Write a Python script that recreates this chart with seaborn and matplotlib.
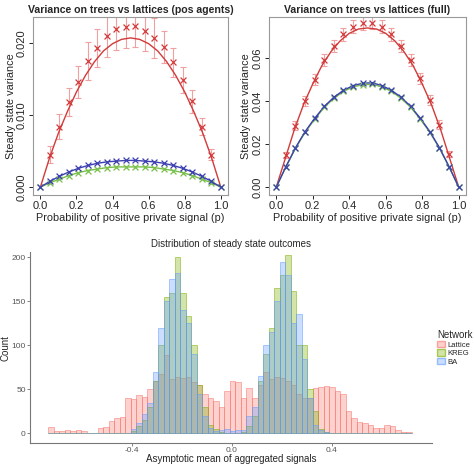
import numpy as np
import pandas as pd
import matplotlib
matplotlib.use("Agg")
import matplotlib.pyplot as plt
import seaborn as sns
from matplotlib.patches import Patch
from matplotlib.colors import to_rgba

sns.set_style("white")
plt.rcParams["font.family"] = ["Liberation Sans", "DejaVu Sans"]

# -------------------------------
# DATA: variance plots
# -------------------------------
P_MARK = [i / 19 for i in range(20)]
P_CURVE = [0.0, 0.05, 0.1, 0.15, 0.2, 0.25, 0.3, 0.35, 0.4, 0.45, 0.5,
           0.55, 0.6, 0.65, 0.7, 0.75, 0.8, 0.85, 0.9, 0.95, 1.0]

POS_RED_MARK = [0.0, 0.0045, 0.0084, 0.0118, 0.0146, 0.0175, 0.0193, 0.0209, 0.0219, 0.0222,
                0.0224, 0.0217, 0.0207, 0.0194, 0.0173, 0.0148, 0.0119, 0.0084, 0.0045, 0.0]
POS_RED_ERR = [0.0, 0.0012, 0.0017, 0.0019, 0.0022, 0.0026, 0.0027, 0.0028, 0.0029, 0.0029,
               0.0029, 0.0028, 0.0028, 0.0022, 0.0020, 0.0018, 0.0016, 0.0012, 0.0008, 0.0]
POS_RED_CURVE = [0.0, 0.0040, 0.0075, 0.0105, 0.0132, 0.0155, 0.0174, 0.0189, 0.0199, 0.0205, 0.0207,
                 0.0205, 0.0199, 0.0189, 0.0174, 0.0155, 0.0132, 0.0105, 0.0075, 0.0040, 0.0]
POS_BLUE = [0.0, 0.0008, 0.0015, 0.0021, 0.0026, 0.0030, 0.0033, 0.0035, 0.0036, 0.0037,
            0.0037, 0.0036, 0.0035, 0.0033, 0.0030, 0.0026, 0.0021, 0.0015, 0.0008, 0.0]
POS_GREEN = [0.0, 0.0006, 0.0011, 0.0016, 0.0020, 0.0023, 0.0025, 0.0027, 0.0028, 0.0028,
             0.0028, 0.0028, 0.0027, 0.0025, 0.0023, 0.0020, 0.0016, 0.0011, 0.0006, 0.0]

FULL_RED_MARK = [0.0, 0.0150, 0.0285, 0.0400, 0.0500, 0.0590, 0.0655, 0.0710, 0.0745, 0.0762,
                 0.0765, 0.0745, 0.0710, 0.0655, 0.0590, 0.0505, 0.0405, 0.0290, 0.0155, 0.0]
FULL_RED_ERR = [0.0, 0.0015, 0.0020, 0.0022, 0.0025, 0.0027, 0.0028, 0.0030, 0.0030, 0.0030,
                0.0030, 0.0030, 0.0030, 0.0028, 0.0027, 0.0025, 0.0022, 0.0020, 0.0015, 0.0]
FULL_RED_CURVE = [0.0, 0.0135, 0.0270, 0.0385, 0.0480, 0.0565, 0.0630, 0.0680, 0.0715, 0.0735, 0.0740,
                  0.0735, 0.0715, 0.0680, 0.0630, 0.0565, 0.0480, 0.0385, 0.0270, 0.0135, 0.0]
FULL_BLUE = [0.0, 0.0095, 0.0183, 0.0258, 0.0320, 0.0375, 0.0418, 0.0450, 0.0472, 0.0483,
             0.0485, 0.0472, 0.0450, 0.0418, 0.0375, 0.0320, 0.0258, 0.0183, 0.0095, 0.0]
FULL_GREEN = [0.0, 0.0093, 0.0180, 0.0254, 0.0316, 0.0371, 0.0413, 0.0445, 0.0466, 0.0476,
              0.0478, 0.0466, 0.0445, 0.0413, 0.0371, 0.0316, 0.0254, 0.0180, 0.0093, 0.0]

# -------------------------------
# DATA: histogram (66 bins)
# -------------------------------
BIN_EDGES = [float(v) for v in np.linspace(-0.735, 0.72, 67)]
NETWORKS = ["Lattice", "KREG", "BA"]
LATTICE = [7, 3, 3, 4, 3, 4, 3, 1, 1,
           6, 7, 14, 18, 19,
           40, 39, 44, 42, 51, 60, 67, 89,
           62, 64, 63, 64, 58, 55,
           45, 40, 37, 30, 48,
           60, 58, 40, 52, 40, 55,
           70, 62, 64, 63, 60, 55, 45,
           40, 40, 52, 53, 54, 53, 48,
           45, 25, 18, 13, 12, 10,
           6, 6, 10, 8, 4, 2, 2]
KREG = [0] * 15 + [3, 8, 15, 30, 60, 100, 155, 160, 200, 160, 133, 100, 55, 30, 10, 5, 2,
                   0, 0, 0, 2, 8, 20, 60, 90, 120, 165, 180, 203, 162, 100, 100, 50, 25, 5, 2] + [0] * 15
BA = [0] * 15 + [5, 12, 22, 35, 70, 120, 150, 175, 182, 140, 125, 90, 45, 20, 6, 3, 4,
                 5, 3, 4, 4, 20, 30, 65, 100, 115, 150, 195, 180, 125, 136, 85, 40, 10, 4, 2] + [0] * 15
HIST_COLORS = {"Lattice": "#F8766D", "KREG": "#7CAE00", "BA": "#619CFF"}

RED, BLUE, GREEN = "#d23a3a", "#3b3fb0", "#78c04a"


def variance_panel(ax, title, red_mark, red_err, red_curve, blue, green, ylim, yticks, ylabels):
    ax.errorbar(P_MARK[1:-1], red_mark[1:-1], yerr=red_err[1:-1], fmt="none",
                ecolor="#f0a0a0", elinewidth=0.8, capsize=2, capthick=0.8)
    sns.lineplot(x=P_CURVE, y=red_curve, color=RED, lw=1.0, ax=ax)
    sns.lineplot(x=P_MARK, y=green, color=GREEN, lw=1.0, ax=ax)
    sns.lineplot(x=P_MARK, y=blue, color=BLUE, lw=1.0, ax=ax)
    ax.scatter(P_MARK[1:-1], red_mark[1:-1], marker="x", color=RED, s=18, lw=0.9, zorder=5)
    ax.scatter(P_MARK, green, marker="x", color=GREEN, s=18, lw=0.9, zorder=5)
    ax.scatter(P_MARK, blue, marker="x", color=BLUE, s=18, lw=0.9, zorder=6)
    ax.set_xlim(-0.04, 1.04)
    ax.set_ylim(*ylim)
    ax.set_xticks([0, 0.2, 0.4, 0.6, 0.8, 1.0])
    ax.set_xticklabels(["0.0", "0.2", "0.4", "0.6", "0.8", "1.0"], fontsize=8)
    ax.set_yticks(yticks)
    ax.set_yticklabels(ylabels, fontsize=8, rotation=90, va="center")
    ax.tick_params(direction="out", length=3, width=0.6, color="black", left=True, bottom=True, pad=1.5)
    for s in ax.spines.values():
        s.set_visible(True)
        s.set_color("#999999")
        s.set_linewidth(0.8)
    ax.set_title(title, fontsize=7.6, fontweight="bold", pad=3)
    ax.set_xlabel("Probability of positive private signal (p)", fontsize=7.8, labelpad=1)
    ax.set_ylabel("Steady state variance", fontsize=7.8, labelpad=1)


fig = plt.figure(figsize=(4.74, 4.66), dpi=100)
ax1 = fig.add_axes([0.070, 0.5815, 0.411, 0.382])
ax2 = fig.add_axes([0.5675, 0.5815, 0.4156, 0.382])
ax3 = fig.add_axes([0.063, 0.049, 0.848, 0.410])

variance_panel(ax1, "Variance on trees vs lattices (pos agents)", POS_RED_MARK, POS_RED_ERR,
               POS_RED_CURVE, POS_BLUE, POS_GREEN, (-0.0011, 0.0236),
               [0, 0.01, 0.02], ["0.000", "0.010", "0.020"])
variance_panel(ax2, "Variance on trees vs lattices (full)", FULL_RED_MARK, FULL_RED_ERR,
               FULL_RED_CURVE, FULL_BLUE, FULL_GREEN, (-0.0037, 0.0791),
               [0, 0.02, 0.04, 0.06], ["0.00", "0.02", "0.04", "0.06"])

# -------------------------------
# HISTOGRAM
# -------------------------------
centers = [(a + b) / 2 for a, b in zip(BIN_EDGES[:-1], BIN_EDGES[1:])]
for name, counts in zip(NETWORKS, [LATTICE, KREG, BA]):
    c = HIST_COLORS[name]
    df = pd.DataFrame({"x": centers, "w": counts})
    n_before = len(ax3.patches)
    sns.histplot(data=df, x="x", weights="w", bins=BIN_EDGES, color=c,
                 linewidth=0.6, ax=ax3)
    for p in ax3.patches[n_before:]:
        p.set_facecolor(to_rgba(c, 0.33))
        p.set_edgecolor(to_rgba(c, 0.6))

ax3.set_xlim(-0.808, 0.80)
ax3.set_ylim(-11, 206)
ax3.set_xticks([-0.4, 0.0, 0.4])
ax3.set_xticklabels(["-0.4", "0.0", "0.4"], fontsize=6, color="#555555")
ax3.set_yticks([0, 50, 100, 150, 200])
ax3.set_yticklabels(["0", "50", "100", "150", "200"], fontsize=6, color="#555555")
ax3.tick_params(direction="out", length=2, width=0.5, color="#555555", left=True, bottom=True, pad=1)
for side in ["top", "right"]:
    ax3.spines[side].set_visible(False)
for side in ["left", "bottom"]:
    ax3.spines[side].set_color("#777777")
    ax3.spines[side].set_linewidth(0.8)
ax3.set_title("Distribution of steady state outcomes", fontsize=7, pad=4)
ax3.set_xlabel("Asymptotic mean of aggregated signals", fontsize=7, labelpad=0)
ax3.set_ylabel("Count", fontsize=7, labelpad=1)

handles = [Patch(facecolor=to_rgba(HIST_COLORS[n], 0.33), edgecolor=to_rgba(HIST_COLORS[n], 0.6),
                 label=n) for n in NETWORKS]
ax3.legend(handles=handles, title="Network", loc="upper left", bbox_to_anchor=(1.0, 0.62),
           frameon=False, fontsize=5.5, title_fontsize=7, handlelength=1.0, handleheight=0.9,
           labelspacing=0.1, handletextpad=0.3, borderaxespad=0.3, alignment="left")

fig.savefig("out.png", dpi=100)
